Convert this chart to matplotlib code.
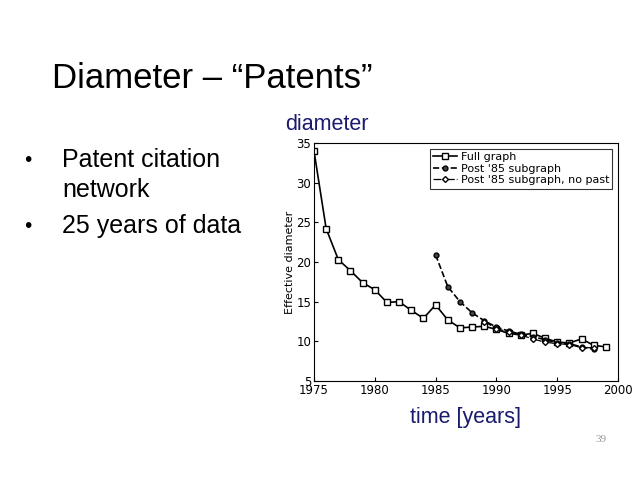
import matplotlib
matplotlib.use("Agg")
import matplotlib.pyplot as plt

years_full = list(range(1975, 2000))
full = [34, 24.2, 20.3, 18.9, 17.4, 16.5, 14.9, 15.0, 13.9, 12.9, 14.6, 12.7, 11.7, 11.8, 11.9,
        11.5, 11.0, 10.8, 11.0, 10.4, 9.9, 9.8, 10.3, 9.5, 9.3]
years_post = list(range(1985, 1999))
post = [20.9, 16.9, 15.0, 13.6, 12.6, 11.8, 11.3, 10.9, 10.6, 10.2, 9.8, 9.7, 9.3, 9.0]
years_nopast = list(range(1989, 1999))
nopast = [12.5, 11.6, 11.2, 10.8, 10.3, 9.9, 9.7, 9.6, 9.2, 9.2]

F = "Liberation Sans"
fig = plt.figure(figsize=(6.38, 4.78), dpi=100)
fig.patch.set_facecolor("white")
fig.text(52/638, 1-78/478, "Diameter – “Patents”", fontsize=25, family=F, va="center")
fig.text(24/638, 1-160/478, "•", fontsize=15, family=F, va="center")
fig.text(62/638, 1-160/478, "Patent citation", fontsize=18, family=F, va="center")
fig.text(62/638, 1-190/478, "network", fontsize=18, family=F, va="center")
fig.text(24/638, 1-226/478, "•", fontsize=15, family=F, va="center")
fig.text(62/638, 1-226/478, "25 years of data", fontsize=18, family=F, va="center")
fig.text(285/638, 1-124/478, "diameter", fontsize=15.5, family=F, color="#1a1a6e", va="center")
fig.text(410/638, 1-417/478, "time [years]", fontsize=15.5, family=F, color="#1a1a6e", va="center")
fig.text(595/638, 1-440/478, "39", fontsize=8, family="Liberation Serif", color="#999999", va="center")

ax = fig.add_axes([314/638, 1-381/478, (618-314)/638, (381-143)/478])
ax.plot(years_full, full, "-s", color="black", ms=4, mfc="white", lw=1.2, label="Full graph")
ax.plot(years_post, post, "--o", color="black", ms=3.5, mfc="#444444", lw=1.2, label="Post '85 subgraph")
ax.plot(years_nopast, nopast, "-.D", color="black", ms=3, mfc="white", lw=0.9, label="Post '85 subgraph, no past")
ax.set_xlim(1975, 2000)
ax.set_ylim(5, 35)
ax.set_xticks(range(1975, 2001, 5))
ax.set_yticks(range(5, 36, 5))
ax.tick_params(labelsize=8.5, direction="in", length=3, pad=2)
ax.set_ylabel("Effective diameter", fontsize=8, labelpad=1)
ax.legend(loc="upper right", fontsize=8, frameon=True, fancybox=False, edgecolor="black",
          borderpad=0.3, labelspacing=0.15, handlelength=2.2, handletextpad=0.3).get_frame().set_linewidth(0.8)
fig.savefig("out.png", dpi=100)
